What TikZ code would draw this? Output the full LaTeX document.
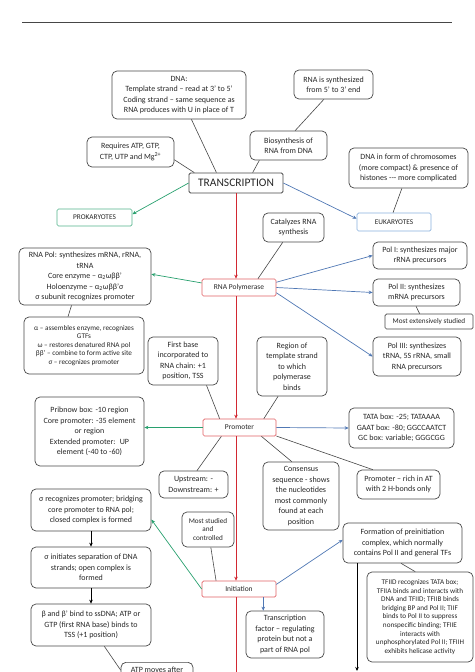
\documentclass[tikz,border=0pt]{standalone}
\usepackage{fontspec}
\setmainfont{Carlito}
\usetikzlibrary{arrows.meta}

\definecolor{boxline}{RGB}{70,70,70}
\definecolor{spinered}{RGB}{210,40,50}
\definecolor{boxred}{RGB}{225,95,100}
\definecolor{mapgreen}{RGB}{40,160,110}
\definecolor{mapblue}{RGB}{80,120,180}
\definecolor{boxblue}{RGB}{135,175,220}

\tikzset{%
	conceptmap/.style={%
		every node/.style={align=center, inner sep=1pt, text=black!85},
		notebox/.style={draw=boxline, line width=0.7pt, rounded corners=5pt,
			font=\fontsize{8}{10.5}\selectfont},
		smallbox/.style={notebox, font=\fontsize{7.2}{8.6}\selectfont},
		stagebox/.style={draw=boxred, line width=0.7pt, rounded corners=1.5pt,
			font=\fontsize{7.5}{9}\selectfont},
		kingdombox/.style={line width=0.7pt, rounded corners=1.5pt,
			font=\fontsize{7.3}{9}\selectfont},
		joinline/.style={draw=boxline, line width=0.6pt},
		spine/.style={draw=spinered, line width=0.8pt},
		spinearrow/.style={spine, -{Stealth[length=4pt,width=3.5pt]}},
		greenarrow/.style={draw=mapgreen, line width=0.7pt, -{Stealth[length=4pt,width=3.5pt]}},
		bluearrow/.style={draw=mapblue, line width=0.7pt, -{Stealth[length=4pt,width=3.5pt]}},
		blackarrow/.style={draw=black, line width=0.7pt, -{Stealth[length=4pt,width=3.5pt]}}
	}
}

\begin{document}
\begin{tikzpicture}[x=1pt, y=-1pt, conceptmap]
	\useasboundingbox (0,0) rectangle (474,672);
	\draw[boxline, line width=0.8pt] (22,22) -- (452,22);

	% top
	\node[notebox, minimum width=134, minimum height=48] (dna) at (179,95)
		{DNA:\\Template strand – read at 3’ to 5’\\Coding strand – same sequence as\\RNA produces with U in place of T};
	\node[notebox, minimum width=79, minimum height=29] (rnadir) at (333.5,84.5)
		{RNA is synthesized\\from 5’ to 3’ end};
	\node[notebox, minimum width=87, minimum height=30] (needs) at (130.5,152)
		{Requires ATP, GTP,\\CTP, UTP and Mg\textsuperscript{2+}};
	\node[notebox, minimum width=77, minimum height=29] (biosyn) at (288.5,145.5)
		{Biosynthesis of\\RNA from DNA};
	\node[draw=boxline, line width=0.8pt, rounded corners=1.5pt, font=\fontsize{11.5}{13}\selectfont,
		minimum width=94, minimum height=20] (trans) at (236,183) {TRANSCRIPTION};
	\node[kingdombox, draw=mapgreen!80, minimum width=75, minimum height=17] (prok) at (94.5,217.5) {PROKARYOTES};
	\node[notebox, minimum width=119, minimum height=40] (chrom) at (408.5,168)
		{DNA in form of chromosomes\\(more compact) \& presence of\\histones -{}-{}- more complicated};
	\node[kingdombox, draw=boxblue, minimum width=74, minimum height=18] (euk) at (394,222) {EUKARYOTES};

	% RNA polymerase
	\node[notebox, minimum width=61, minimum height=29] (catal) at (293.5,227.5) {Catalyzes RNA\\synthesis};
	\node[stagebox, minimum width=74, minimum height=17] (rnapol) at (239,287.5) {RNA Polymerase};
	\node[notebox, minimum width=132, minimum height=57] (polinfo) at (85,276.5)
		{RNA Pol: synthesizes mRNA, rRNA,\\tRNA\\Core enzyme – α\textsubscript{2}ωββ’\\Holoenzyme – α\textsubscript{2}ωββ’σ\\σ subunit recognizes promoter};
	\node[smallbox, minimum width=120, minimum height=57] (subunits) at (84,345.5)
		{α – assembles enzyme, recognizes\\GTFs\\ω – restores denatured RNA pol\\ββ’ – combine to form active site\\σ – recognizes promoter};
	\node[notebox, minimum width=94, minimum height=27] (polI) at (420,255.5)
		{Pol I: synthesizes major\\rRNA precursors};
	\node[notebox, minimum width=87, minimum height=27] (polII) at (416.5,292.5)
		{Pol II: synthesizes\\mRNA precursors};
	\node[smallbox, rounded corners=1.5pt, minimum width=88, minimum height=15] (studied) at (429,321.5)
		{Most extensively studied};
	\node[notebox, minimum width=88, minimum height=39] (polIII) at (417,356.5)
		{Pol III: synthesizes\\tRNA, 5S rRNA, small\\RNA precursors};

	% promoter
	\node[notebox, minimum width=70, minimum height=48] (firstbase) at (183,361)
		{First base\\incorporated to\\RNA chain: +1\\position, TSS};
	\node[notebox, minimum width=70, minimum height=59] (region) at (292,366.5)
		{Region of\\template strand\\to which\\polymerase\\binds};
	\node[stagebox, minimum width=73, minimum height=17] (prom) at (239.5,427.5) {Promoter};
	\node[notebox, minimum width=109, minimum height=69] (pribnow) at (89.5,431.5)
		{Pribnow box: -10 region\\Core promoter: -35 element\\or region\\Extended promoter:~ UP\\element (-40 to -60)};
	\node[notebox, minimum width=105, minimum height=40] (tata) at (401.5,428)
		{TATA box: -25; TATAAAA\\GAAT box: -80; GGCCAATCT\\GC box: variable; GGGCGG};
	\node[notebox, minimum width=69, minimum height=27] (updown) at (193.5,484.5)
		{Upstream: -\\Downstream: +};
	\node[notebox, minimum width=76, minimum height=68] (consensus) at (301,496)
		{Consensus\\sequence - shows\\the nucleotides\\most commonly\\found at each\\position};
	\node[notebox, minimum width=83, minimum height=29] (richat) at (398.5,484.5)
		{Promoter – rich in AT\\with 2 H-bonds only};

	% initiation
	\node[notebox, minimum width=120, minimum height=42] (closed) at (91,510)
		{σ recognizes promoter; bridging\\core promoter to RNA pol;\\closed complex is formed};
	\node[notebox, minimum width=120, minimum height=41] (open) at (91,567.5)
		{σ initiates separation of DNA\\strands; open complex is\\formed};
	\node[notebox, minimum width=120, minimum height=42] (bind) at (91,625)
		{β and β’ bind to ssDNA; ATP or\\GTP (first RNA base) binds to\\TSS (+1 position)};
	\node[notebox, minimum width=72, inner ysep=5pt, anchor=north] (atp) at (157,662)
		{ATP moves after};
	\node[smallbox, minimum width=52, minimum height=35] (control) at (208,529.5)
		{Most studied\\and\\controlled};
	\node[stagebox, minimum width=74, minimum height=16] (init) at (239,589) {Initiation};
	\node[notebox, minimum width=119, minimum height=40] (preinit) at (402.5,543)
		{Formation of preinitiation\\complex, which normally\\contains Pol II and general TFs};
	\node[notebox, minimum width=78, minimum height=47] (tf) at (285,634.5)
		{Transcription\\factor – regulating\\protein but not a\\part of RNA pol};
	\node[smallbox, minimum width=106, minimum height=90] (tfiid) at (420,617)
		{TFIID recognizes TATA box;\\TFIIA binds and interacts with\\DNA and TFIID; TFIIB binds\\bridging BP and Pol II; TIIF\\binds to Pol II to suppress\\nonspecific binding; TFIIE\\interacts with\\unphosphorylated Pol II; TFIIH\\exhibits helicase activity};

	\coordinate (spineend) at (236,672);
	\coordinate (pcdown) at (357,671);

	% red spine
	\draw[spinearrow] (trans.south) -- (trans.south |- rnapol.north);
	\draw[spinearrow] (trans.south |- rnapol.south) -- (trans.south |- prom.north);
	\draw[spinearrow] (trans.south |- prom.south) -- (trans.south |- init.north);
	\draw[spine] (trans.south |- init.south) -- (spineend);

	% plain links
	\draw[joinline] (dna.-63) -- (trans.152);
	\draw[joinline] (needs.-10) -- (trans.166);
	\draw[joinline] (biosyn.207) -- (trans.32);
	\draw[joinline] (rnadir.237) -- (biosyn.66);
	\draw[joinline] (chrom.252) -- (euk.96);
	\draw[joinline] (catal.234) -- (rnapol.25);
	\draw[joinline] (polinfo.245) -- (subunits.119);
	\draw[joinline] (polII.268) -- (studied.140);
	\draw[joinline] (firstbase.-46) -- (prom.156);
	\draw[joinline] (region.245) -- (prom.20);
	\draw[joinline] (prom.206) -- (updown.76);
	\draw[joinline] (prom.-22) -- (consensus.105);
	\draw[joinline] (prom.-13) -- (richat.150);
	\draw[joinline] (bind.-58) -- (atp.west);
	\draw[joinline] (control.-81) -- (init.160);
	\draw[joinline] (preinit.266) -- (tfiid.96);

	% coloured arrows
	\draw[greenarrow] (trans.west) -- (prok.5);
	\draw[bluearrow] (trans.east) -- (euk.175);
	\draw[greenarrow] (rnapol.173) -- (polinfo.2);
	\foreach \pol/\ang in {polI/8, polII/0, polIII/-8} {
		\draw[bluearrow] (rnapol.\ang) -- (\pol.west);
	}
	\draw[greenarrow] (prom.west) -- (prom.west -| pribnow.east);
	\draw[bluearrow] (prom.east) -- (tata.west);
	\draw[greenarrow] (init.west) -- (closed.-9);
	\draw[bluearrow] (init.7) -- (preinit.177);
	\draw[bluearrow] (init.-19) -- (init.-19 |- tf.north);

	% steps
	\draw[blackarrow] (closed.south) -- (open.north);
	\draw[blackarrow] (open.south) -- (bind.north);
	\draw[blackarrow] (pcdown |- preinit.south) -- (pcdown);
\end{tikzpicture}
\end{document}
